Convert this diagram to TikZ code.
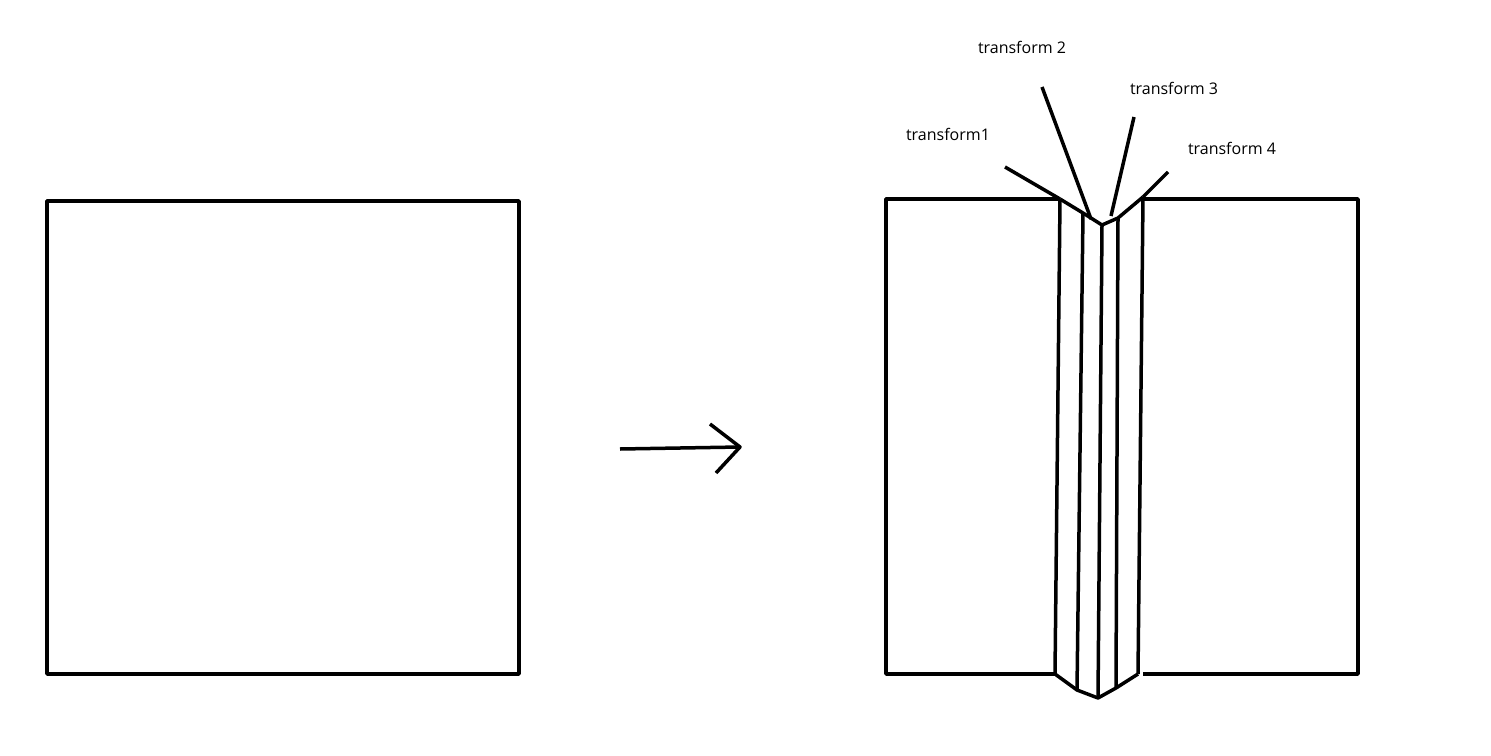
\documentclass[tikz,border=0pt]{standalone}
\usepackage{fontspec}
\setmainfont{Open Sans}
\begin{document}
\begin{tikzpicture}[x=1pt,y=-1pt,line width=3.5pt,line join=round,
  lbl/.style={font=\fontsize{16}{18}\selectfont,inner sep=0pt}]
\useasboundingbox (0,0) rectangle (1491,755);
\draw (47,201) rectangle (519,674);
% arrow
\coordinate (a1) at (620,449); \coordinate (a2) at (740,447);
\draw (a1) -- (a2);
\draw (710,424) -- (a2) -- (716,473);
% right figure
\coordinate (t0) at (1060,199); \coordinate (t1) at (1083,213);
\coordinate (t2) at (1102,225); \coordinate (t3) at (1118,218);
\coordinate (t4) at (1143,197);
\coordinate (b0) at (1055,674); \coordinate (b1) at (1077,690);
\coordinate (b2) at (1098,698); \coordinate (b3) at (1116,688);
\coordinate (b4) at (1138,674);
\draw (1060,199) -- (886,199) -- (886,674) -- (b0);
\draw (1143,199) -- (1358,199) -- (1358,674) -- (1143,674);
\draw (t0) -- (t1) -- (t2) -- (t3) -- (t4);
\draw (b0) -- (b1) -- (b2) -- (b3) -- (b4);
\foreach \i in {0,...,4} \draw (t\i) -- (b\i);
% labels
\node[lbl] (l1) at (948,134) {transform1};
\node[lbl] (l2) at (1022,47) {transform 2};
\node[lbl] (l3) at (1174,88) {transform 3};
\node[lbl] (l4) at (1232,148) {transform 4};
\coordinate (e1) at (1005,167); \coordinate (e2) at (1042,87);
\coordinate (e3) at (1134,117); \coordinate (e4) at (1168,172);
\draw (e1) -- (t0);
\draw (e2) -- (1091,219);
\draw (e3) -- (1111,216);
\draw (e4) -- (t4);
\end{tikzpicture}
\end{document}
